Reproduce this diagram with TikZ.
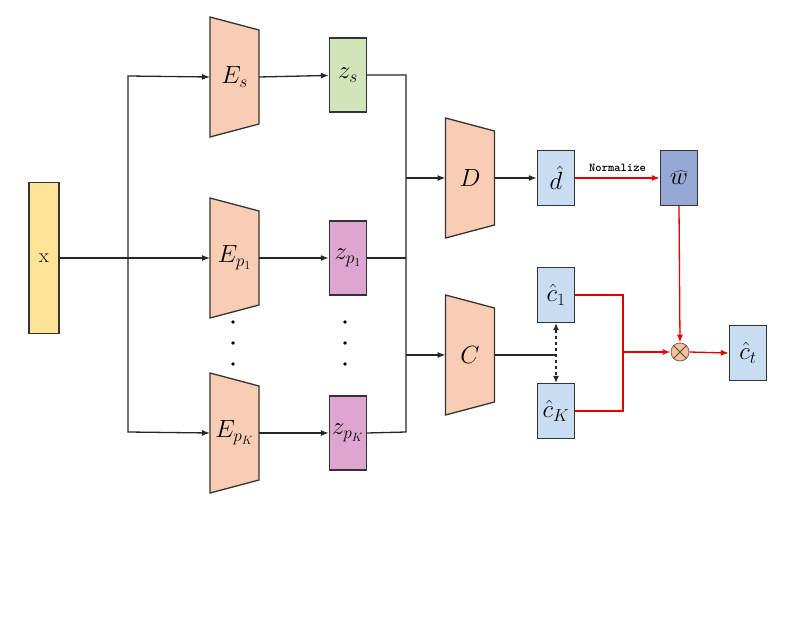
\documentclass[tikz,border=0pt]{standalone}
\usetikzlibrary{arrows.meta,shapes.misc}
\begin{document}
\begin{tikzpicture}[x=1pt,y=-1pt,
  bx/.style={draw=black!80,line width=1.3pt,minimum width=37pt,inner sep=0pt,font=\fontsize{24}{28}\selectfont},
  ar/.style={-{Latex[length=8pt,width=6pt]},line width=1.3pt,draw=black!85},
  ln/.style={line width=1.3pt,draw=black!85},
  rd/.style={-{Latex[length=8pt,width=6pt]},line width=1.3pt,draw=red!90!black,fill=red!90!black},
  rl/.style={line width=1.3pt,draw=red!90!black},
  tr/.style={draw=black!80,line width=1.3pt},
  dt/.style={circle,fill=black!85!blue,inner sep=1.4pt}]
\useasboundingbox (0,0) rectangle (797,623);
\definecolor{yel}{RGB}{255,228,150}
\definecolor{grn}{RGB}{210,228,185}
\definecolor{pnk}{RGB}{222,165,208}
\definecolor{lb}{RGB}{200,220,242}
\definecolor{db}{RGB}{150,168,212}
\definecolor{trc}{RGB}{248,205,180}
\node[bx,fill=yel,minimum width=30pt,minimum height=151pt,font=\fontsize{20}{24}\selectfont] (x) at (44,258) {x};
\foreach \n/\cx/\cy/\lab in {es/234.5/77/{$E_s$},ep1/234.5/258/{$E_{p_1}$},epk/234.5/433/{$E_{p_K}$},dd/470/178/{$D$},cc/470/355/{$C$}}{
  \draw[tr,fill=trc] (\cx-24.5,\cy-60) -- (\cx+24.5,\cy-47) -- (\cx+24.5,\cy+47) -- (\cx-24.5,\cy+60) -- cycle;
  \node[font=\fontsize{24}{28}\selectfont] (\n) at (\cx,\cy) {\lab};
  \coordinate (\n W) at (\cx-24.5,\cy);
  \coordinate (\n E) at (\cx+24.5,\cy);
}
\node[bx,fill=grn,minimum height=74pt] (zs) at (348,75) {$z_s$};
\node[bx,fill=pnk,minimum height=74pt] (zp1) at (348,258) {$z_{p_1}$};
\node[bx,fill=pnk,minimum height=74pt] (zpk) at (348,433) {$z_{p_K}$};
\node[bx,fill=lb,minimum height=55pt] (d) at (556,178) {$\hat{d}$};
\node[bx,fill=db,minimum height=55pt] (w) at (679,178) {$\widehat{w}$};
\node[bx,fill=lb,minimum height=55pt] (c1) at (556,295) {$\hat{c}_1$};
\node[bx,fill=lb,minimum height=55pt] (ck) at (556,411) {$\hat{c}_K$};
\node[bx,fill=lb,minimum height=55pt] (ct) at (748,353) {$\hat{c}_t$};
\node[draw=black!60,fill=trc!85!orange,circle,minimum size=18pt,inner sep=0pt,line width=0.8pt] (m) at (680,352) {};
\draw[black!70,line width=0.8pt] (m.north west)--(m.south east) (m.north east)--(m.south west);
\foreach \y in {322,343,364}{\node[dt] (da\y) at (233,\y) {}; \node[dt] (db\y) at (345,\y) {};}
\coordinate (j1) at (128,258); \coordinate (j2) at (406,258);
\draw[ln] (x.east) -- (j1);
\draw[ar] (j1) -- (128,76) -- (esW);
\draw[ar] (j1) -- (ep1W);
\draw[ar] (j1) -- (128,432) -- (epkW);
\draw[ar] (esE) -- (zs);
\draw[ar] (ep1E) -- (zp1);
\draw[ar] (epkE) -- (zpk);
\draw[ln] (zs.east) -- (406,75) -- (406,432) -- (zpk.east);
\draw[ln] (zp1.east) -- (j2);
\draw[ar] (406,178) -- (ddW);
\draw[ar] (406,355) -- (ccW);
\draw[ar] (ddE) -- (d);
\draw[ln] (ccE) -- (556,355);
\draw[{Latex[length=7pt,width=6pt]}-{Latex[length=7pt,width=6pt]},line width=1.3pt,dashed,draw=black!85] (c1.south) -- (ck.north);
\draw[rd] (d) -- node[above=2pt,text=black,font=\ttfamily\bfseries\fontsize{12}{14}\selectfont]{Normalize} (w);
\draw[rd] (w.south) -- (m.north);
\draw[rl] (c1.east) -- (623,295) -- (623,411) -- (ck.east);
\draw[rd] (623,352) -- (m.west);
\draw[rd] (m.east) -- (ct.west);
\end{tikzpicture}
\end{document}
